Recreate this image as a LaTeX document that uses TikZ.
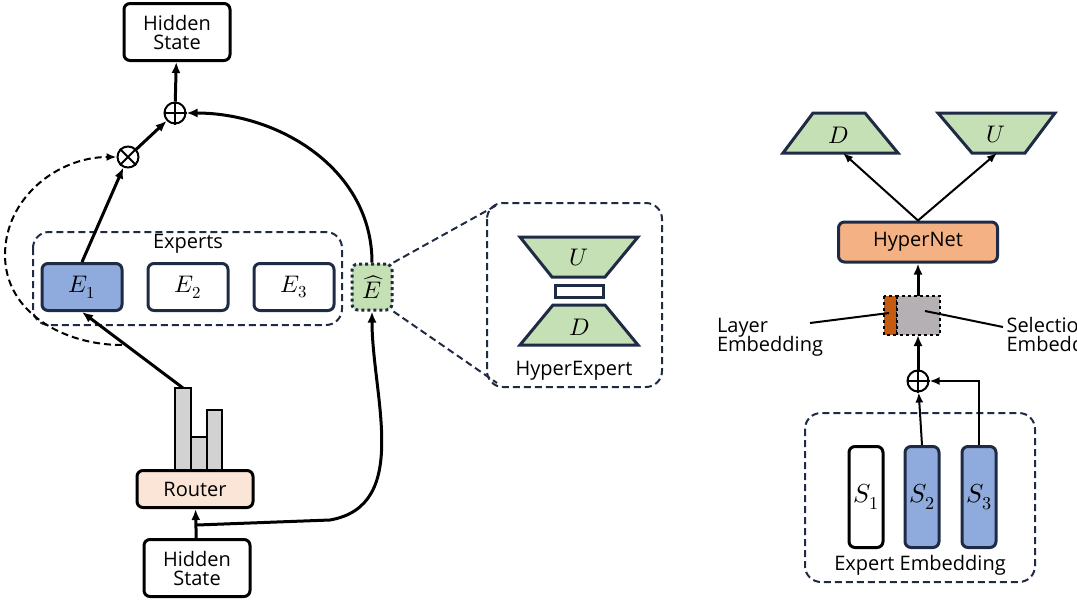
\documentclass[tikz,border=0pt]{standalone}
\usepackage{fontspec}
\usepackage{unicode-math}
\setmainfont{Open Sans}
\setmathfont{Latin Modern Math}
\usetikzlibrary{arrows.meta,positioning}
\definecolor{eblue}{HTML}{8FAADC}
\definecolor{egreen}{HTML}{C5E0B4}
\definecolor{rpeach}{HTML}{FBE5D6}
\definecolor{hnet}{HTML}{F4B183}
\definecolor{lemb}{HTML}{C55A11}
\definecolor{semb}{HTML}{B4B0B4}
\definecolor{edge}{HTML}{1F2A44}
\tikzset{
    box/.style={draw=edge,line width=3pt,rounded corners=6pt,inner sep=0pt},
    expert/.style={box,minimum width=80pt,minimum height=47pt},
    state/.style={box,draw=black,align=center,minimum width=106pt,minimum height=57pt},
    group/.style={draw=edge,dash pattern=on 7pt off 4pt,line width=2pt,rounded corners=16pt},
    op/.style={circle,draw,line width=2pt,minimum size=21pt,inner sep=0pt},
    arr/.style={-{Latex[length=11pt,width=9pt]},line width=3pt},
    tarr/.style={-{Latex[length=10pt,width=8pt]},line width=2pt},
    trap/.style={draw=edge,fill=egreen,line width=3pt},
}
\begin{document}
\begin{tikzpicture}[x=1pt,y=-1pt,font=\fontsize{20}{23}\selectfont]
    \useasboundingbox (0,0) rectangle (1077,603);
    \clip (0,0) rectangle (1077,603);

    % left: moe layer
    \node[state] (hstop) at (177,32) {Hidden\\[-4pt]State};
    \node[state] (hsbot) at (197,568) {Hidden\\[-4pt]State};
    \node[op] (plus) at (175,113) {};
    \draw[line width=2pt] (plus.north) -- (plus.south) (plus.west) -- (plus.east);
    \node[op] (times) at (128,157) {};
    \draw[line width=2pt] (times.north west) -- (times.south east) (times.north east) -- (times.south west);

    \draw[group] (33,232) rectangle (342,325);
    \node (explabel) at (188,244) {Experts};
    \node[expert,fill=eblue] (e1) at (82,287) {\fontsize{24}{24}\selectfont$E_1$};
    \node[expert,fill=white] (e2) at (188,287) {\fontsize{24}{24}\selectfont$E_2$};
    \node[expert,fill=white] (e3) at (294,287) {\fontsize{24}{24}\selectfont$E_3$};
    \node[box,dashed,fill=egreen,minimum width=40pt,minimum height=46pt] (ehat) at (372,287) {\fontsize{24}{24}\selectfont$\widehat{E}$};

    % router
    \draw[fill=gray!35,line width=2pt] (175,470) rectangle (191,388);
    \draw[fill=gray!35,line width=2pt] (191,470) rectangle (207,437);
    \draw[fill=gray!35,line width=2pt] (207,470) rectangle (222,410);
    \coordinate (bartop) at (183,388);
    \node[box,draw=black,fill=rpeach,minimum width=116pt,minimum height=37pt] (router) at (195,489) {Router};
    \coordinate (split) at (197,525);

    \draw[arr] (hsbot) -- (router);
    \draw[arr] (split) -- (330,520) to[out=10,in=-90] (ehat.south);
    \draw[arr] (bartop) -- (e1.south);
    \draw[arr] (e1.north) -- (times);
    \draw[arr] (times) -- (plus);
    \draw[arr] (ehat.north) to[out=90,in=0] (plus.east);
    \draw[arr] (plus) -- (hstop);
    \draw[tarr,dash pattern=on 7pt off 4pt] (122,345) to[out=180,in=-90] (5,255) to[out=90,in=180] (times.west);

    % hyper expert
    \draw[group] (487,203) rectangle (662,387);
    \draw[dash pattern=on 7pt off 4pt,line width=2pt,draw=edge] (ehat.north east) -- (497,205) (ehat.south east) -- (497,383);
    \draw[trap] (520,237) -- (638,237) -- (605,277) -- (552,277) -- cycle;
    \node (hu) at (579,258) {\fontsize{24}{24}\selectfont$U$};
    \draw[draw=edge,line width=3pt,fill=white] (555,285) rectangle (603,297);
    \draw[trap] (553,305) -- (605,305) -- (638,345) -- (520,345) -- cycle;
    \node (hd) at (579,327) {\fontsize{24}{24}\selectfont$D$};
    \node (helabel) at (574,371) {HyperExpert};

    % right: hypernet
    \draw[trap] (813,113) -- (865,113) -- (898,153) -- (783,153) -- cycle;
    \node (rd) at (838,135) {\fontsize{24}{24}\selectfont$D$};
    \draw[trap] (938,113) -- (1055,113) -- (1025,153) -- (972,153) -- cycle;
    \node (ru) at (996,135) {\fontsize{24}{24}\selectfont$U$};
    \coordinate (dbot) at (843,153);
    \coordinate (ubot) at (997,153);
    \node[box,fill=hnet,minimum width=159pt,minimum height=40pt] (hyper) at (918,242) {HyperNet};
    \draw[tarr] (hyper.north) -- (dbot);
    \draw[tarr] (hyper.north) -- (ubot);

    \draw[dashed,line width=2pt,fill=lemb] (884,296) rectangle (897,335);
    \draw[dashed,line width=2pt,fill=semb] (897,296) rectangle (940,335);
    \coordinate (embtop) at (918,296);
    \coordinate (embbot) at (918,335);
    \draw[arr] (embtop) -- (hyper.south);
    \node[align=left] (layer) at (770,337) {Layer\\[-4pt]Embedding};
    \node[align=left,anchor=west] (select) at (1003,337) {Selection\\[-4pt]Embedding};
    \draw[line width=2pt] (810,323) -- (889,313);
    \draw[line width=2pt] (925,311) -- (1003,327);

    \node[op] (rplus) at (918,381) {};
    \draw[line width=2pt] (rplus.north) -- (rplus.south) (rplus.west) -- (rplus.east);
    \draw[arr] (rplus) -- (embbot);

    \draw[group] (805,413) rectangle (1035,582);
    \node[box,draw=black,fill=white,minimum width=34pt,minimum height=101pt] (s1) at (866,497) {\fontsize{26}{26}\selectfont$S_1$};
    \node[box,fill=eblue,minimum width=34pt,minimum height=101pt] (s2) at (922,497) {\fontsize{26}{26}\selectfont$S_2$};
    \node[box,fill=eblue,minimum width=34pt,minimum height=101pt] (s3) at (979,497) {\fontsize{26}{26}\selectfont$S_3$};
    \node (eelabel) at (920,565) {Expert Embedding};
    \draw[tarr] (s2.north) -- (rplus);
    \draw[tarr] (s3.north) |- (rplus);
\end{tikzpicture}
\end{document}
